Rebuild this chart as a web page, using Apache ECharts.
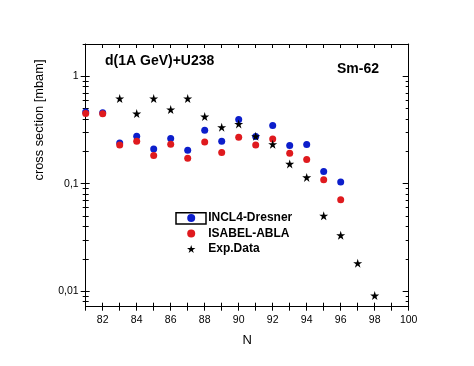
<!DOCTYPE html>
<html><head><meta charset="utf-8">
<script src="https://cdn.jsdelivr.net/npm/echarts@6/dist/echarts.min.js"></script>
<style>html,body{margin:0;padding:0;background:#fff}#c{width:474px;height:366px}</style>
</head><body><div id="c"></div>
<script>
// ---- data ----
const nModel = [81,82,83,84,85,86,87,88,89,90,91,92,93,94,95,96];
const inclDresner = [0.466,0.458,0.240,0.277,0.211,0.264,0.205,0.315,0.249,0.396,0.275,0.348,0.227,0.232,0.130,0.1035];
const isabelAbla  = [0.450,0.448,0.230,0.249,0.183,0.233,0.173,0.244,0.195,0.271,0.230,0.261,0.192,0.168,0.109,0.0709];
const nExp = [83,84,85,86,87,88,89,90,91,92,93,94,95,96,97,98];
const expData = [0.621,0.450,0.621,0.491,0.621,0.422,0.336,0.360,0.277,0.233,0.153,0.1145,0.0503,0.0331,0.0182,0.00908];
const xLabelTicks = [82,84,86,88,90,92,94,96,98,100];
const yMajorTicks = [0.01,0.1,1];
const yMinorTicks = [0.008,0.009,0.02,0.03,0.04,0.05,0.06,0.07,0.08,0.09,0.2,0.3,0.4,0.5,0.6,0.7,0.8,0.9,2];
const yMin = 0.00716, yMax = 2;

// ---- build ----
const L = Math.log10;
const lo = L(yMin), hi = L(yMax);
const majorL = yMajorTicks.map(L), minorL = yMinorTicks.map(L);
const FONT = 'Liberation Sans, Arial, sans-serif';
const black = {color:'#000', width:1};
function fmtY(v){
  const p = Math.round(v);
  if (Math.abs(v-p) > 1e-6) return '';
  return String(Math.pow(10,p).toFixed(Math.max(0,-p))).replace('.', ',');
}
function yAx(pos, o){
  return Object.assign({type:'value', position:pos, min:lo, max:hi, splitLine:{show:false},
    axisLine:{show:false, onZero:false, lineStyle:black}, axisLabel:{show:false},
    axisTick:{show:false}}, o);
}
function xAx(pos, o){
  return Object.assign({type:'value', position:pos, min:81, max:100, interval:1, splitLine:{show:false},
    axisLine:{show:false, onZero:false, lineStyle:black}, axisLabel:{show:false},
    axisTick:{show:true, lineStyle:black}}, o);
}
const star = 'path://M10,0L12.245,6.91L19.51,6.91L13.63,11.18L15.88,18.09L10,13.82L4.12,18.09L6.37,11.18L0.49,6.91L7.755,6.91Z';

const chart = echarts.init(document.getElementById('c'), null, {renderer:'canvas'});
chart.setOption({
  animation:false,
  backgroundColor:'#fff',
  grid:{left:85.7, top:44, right:65.3, bottom:59.3, containLabel:false, outerBoundsMode:'none'},
  xAxis:[
    xAx('bottom',{axisLine:{show:true,onZero:false,lineStyle:black}, axisTick:{show:true,inside:false,length:4,lineStyle:black},
      axisLabel:{show:true, customValues:xLabelTicks, fontSize:10.5, color:'#000', margin:8, fontFamily:FONT},
      name:'N', nameLocation:'middle', nameGap:27, nameTextStyle:{fontSize:13, color:'#000', fontFamily:FONT}}),
    xAx('bottom',{axisTick:{show:true,inside:true,length:4,lineStyle:black}}),
    xAx('top',{axisLine:{show:true,onZero:false,lineStyle:black}, axisTick:{show:true,inside:true,length:4,lineStyle:black}})
  ],
  yAxis:[
    yAx('left',{axisLine:{show:true,onZero:false,lineStyle:black},
      axisTick:{show:true,inside:false,length:5,customValues:majorL,lineStyle:black},
      axisLabel:{show:true, customValues:majorL, formatter:fmtY, fontSize:10.5, color:'#000', margin:7, fontFamily:FONT}}),
    yAx('left',{axisTick:{show:true,inside:true,length:4,customValues:majorL,lineStyle:black}}),
    yAx('left',{axisTick:{show:true,inside:false,length:3,customValues:minorL,lineStyle:black}}),
    yAx('left',{axisTick:{show:true,inside:true,length:3,customValues:minorL,lineStyle:black}}),
    yAx('right',{axisLine:{show:true,onZero:false,lineStyle:black}, axisTick:{show:true,inside:true,length:6,customValues:majorL,lineStyle:black}}),
    yAx('right',{axisTick:{show:true,inside:true,length:3,customValues:minorL,lineStyle:black}})
  ],
  legend:{
    orient:'vertical', left:187, top:211.5, itemWidth:20, itemHeight:8, itemGap:2.5, selectedMode:false,
    padding:0,
    textStyle:{fontSize:12, fontWeight:'bold', color:'#000', fontFamily:FONT, lineHeight:13, padding:[0,0,0,2]},
    data:['INCL4-Dresner','ISABEL-ABLA','Exp.Data']
  },
  series:[
    {name:'INCL4-Dresner', type:'scatter', xAxisIndex:0, yAxisIndex:0, symbol:'circle', symbolSize:7,
      itemStyle:{color:'#0c1ecb', opacity:1}, data:nModel.map((n,i)=>[n, L(inclDresner[i])])},
    {name:'ISABEL-ABLA', type:'scatter', xAxisIndex:0, yAxisIndex:0, symbol:'circle', symbolSize:7,
      itemStyle:{color:'#df1a1e', opacity:1}, data:nModel.map((n,i)=>[n, L(isabelAbla[i])])},
    {name:'Exp.Data', type:'scatter', xAxisIndex:0, yAxisIndex:0, symbol:star, symbolSize:9,
      itemStyle:{color:'#000', opacity:1}, data:nExp.map((n,i)=>[n, L(expData[i])])}
  ],
  graphic:[
    {type:'text', x:105, y:60.7, style:{text:'d(1A GeV)+U238', font:'bold 14px '+FONT, fill:'#000', verticalAlign:'middle'}},
    {type:'text', x:337, y:69, style:{text:'Sm-62', font:'bold 14px '+FONT, fill:'#000', verticalAlign:'middle'}},
    {type:'text', x:39.3, y:120, rotation:Math.PI/2, style:{text:'cross section [mbam]', font:'12.8px '+FONT, fill:'#000', align:'center', verticalAlign:'middle'}},
    {type:'rect', shape:{x:176, y:212.7, width:30, height:11.3}, style:{fill:'none', stroke:'#000', lineWidth:1.5}}
  ]
});
</script></body></html>
